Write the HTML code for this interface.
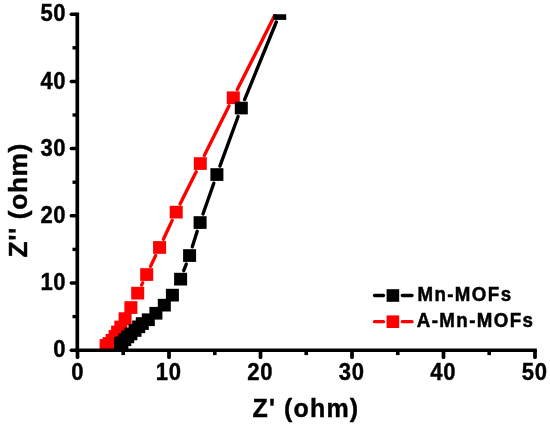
<!DOCTYPE html>
<html><head><meta charset="utf-8"><title>EIS Nyquist plot</title>
<style>html,body{margin:0;padding:0;background:#fff}body{width:550px;height:427px;overflow:hidden}</style></head>
<body>
<svg width="550" height="427" viewBox="0 0 550 427" style="display:block;font-family:'Liberation Sans',Arial,sans-serif;font-weight:bold">
<rect width="550" height="427" fill="#fff"/>
<defs><clipPath id="cp"><rect x="77.5" y="14.2" width="460" height="337"/></clipPath></defs>
<g clip-path="url(#cp)"><line x1="283.7" y1="-2.5" x2="237.3" y2="89.6" stroke="#fe0000" stroke-width="3.4" stroke-linecap="round"/>
<line x1="229.1" y1="105.8" x2="204.3" y2="155.4" stroke="#fe0000" stroke-width="3.4" stroke-linecap="round"/>
<line x1="196.2" y1="171.7" x2="180.1" y2="204.0" stroke="#fe0000" stroke-width="3.4" stroke-linecap="round"/>
<line x1="172.2" y1="220.4" x2="163.4" y2="239.2" stroke="#fe0000" stroke-width="3.4" stroke-linecap="round"/>
<line x1="155.6" y1="255.6" x2="150.6" y2="266.4" stroke="#fe0000" stroke-width="3.4" stroke-linecap="round"/>
<line x1="142.7" y1="282.8" x2="141.6" y2="285.0" stroke="#fe0000" stroke-width="3.4" stroke-linecap="round"/>
<rect x="281.3" y="-16.9" width="13.0" height="12.7" fill="#fe0000"/>
<rect x="226.8" y="91.4" width="13.0" height="12.7" fill="#fe0000"/>
<rect x="193.8" y="157.2" width="13.0" height="12.7" fill="#fe0000"/>
<rect x="169.7" y="205.8" width="13.0" height="12.7" fill="#fe0000"/>
<rect x="153.1" y="241.1" width="13.0" height="12.7" fill="#fe0000"/>
<rect x="140.2" y="268.2" width="13.0" height="12.7" fill="#fe0000"/>
<rect x="131.2" y="286.8" width="13.0" height="12.7" fill="#fe0000"/>
<rect x="124.4" y="301.2" width="13.0" height="12.7" fill="#fe0000"/>
<rect x="118.6" y="312.3" width="13.0" height="12.7" fill="#fe0000"/>
<rect x="114.3" y="320.6" width="13.0" height="12.7" fill="#fe0000"/>
<rect x="111.1" y="325.6" width="13.0" height="12.7" fill="#fe0000"/>
<rect x="108.6" y="330.1" width="13.0" height="12.7" fill="#fe0000"/>
<rect x="105.6" y="334.0" width="13.0" height="12.7" fill="#fe0000"/>
<rect x="102.6" y="337.1" width="13.0" height="12.7" fill="#fe0000"/>
<rect x="99.6" y="339.1" width="13.0" height="12.7" fill="#fe0000"/></g>
<g clip-path="url(#cp)"><line x1="276.3" y1="22.0" x2="244.6" y2="99.6" stroke="#000" stroke-width="3.4" stroke-linecap="round"/>
<line x1="238.1" y1="116.5" x2="219.9" y2="166.1" stroke="#000" stroke-width="3.4" stroke-linecap="round"/>
<line x1="213.8" y1="183.2" x2="203.0" y2="214.0" stroke="#000" stroke-width="3.4" stroke-linecap="round"/>
<line x1="197.2" y1="231.3" x2="192.3" y2="246.8" stroke="#000" stroke-width="3.4" stroke-linecap="round"/>
<line x1="186.3" y1="264.0" x2="183.7" y2="270.7" stroke="#000" stroke-width="3.4" stroke-linecap="round"/>
<rect x="273.2" y="7.2" width="13.0" height="12.7" fill="#000"/>
<rect x="234.8" y="101.7" width="13.0" height="12.7" fill="#000"/>
<rect x="210.4" y="168.2" width="13.0" height="12.7" fill="#000"/>
<rect x="193.6" y="216.2" width="13.0" height="12.7" fill="#000"/>
<rect x="183.1" y="249.2" width="13.0" height="12.7" fill="#000"/>
<rect x="174.1" y="272.8" width="13.0" height="12.7" fill="#000"/>
<rect x="165.9" y="288.8" width="13.0" height="12.7" fill="#000"/>
<rect x="157.8" y="298.8" width="13.0" height="12.7" fill="#000"/>
<rect x="149.4" y="306.9" width="13.0" height="12.7" fill="#000"/>
<rect x="141.8" y="313.4" width="13.0" height="12.7" fill="#000"/>
<rect x="135.8" y="317.2" width="13.0" height="12.7" fill="#000"/>
<rect x="132.2" y="320.5" width="13.0" height="12.7" fill="#000"/>
<rect x="128.5" y="324.1" width="13.0" height="12.7" fill="#000"/>
<rect x="124.4" y="327.6" width="13.0" height="12.7" fill="#000"/>
<rect x="121.2" y="330.5" width="13.0" height="12.7" fill="#000"/>
<rect x="118.3" y="333.4" width="13.0" height="12.7" fill="#000"/>
<rect x="115.4" y="336.4" width="13.0" height="12.7" fill="#000"/>
<rect x="114.0" y="337.4" width="13.0" height="12.7" fill="#000"/></g>
<line x1="77.3" y1="12.4" x2="77.3" y2="352" stroke="#000" stroke-width="3.7"/>
<line x1="75.5" y1="350.2" x2="536.8" y2="350.2" stroke="#000" stroke-width="3.5"/>
<line x1="71.3" y1="350.2" x2="76" y2="350.2" stroke="#000" stroke-width="3.5" stroke-linecap="round"/>
<line x1="77.5" y1="351" x2="77.5" y2="357.2" stroke="#000" stroke-width="3.7" stroke-linecap="round"/>
<line x1="72.5" y1="316.6" x2="76" y2="316.6" stroke="#000" stroke-width="3.4"/>
<line x1="123.2" y1="351" x2="123.2" y2="355.1" stroke="#000" stroke-width="3.6"/>
<line x1="71.3" y1="283.0" x2="76" y2="283.0" stroke="#000" stroke-width="3.5" stroke-linecap="round"/>
<line x1="169.0" y1="351" x2="169.0" y2="357.2" stroke="#000" stroke-width="3.7" stroke-linecap="round"/>
<line x1="72.5" y1="249.4" x2="76" y2="249.4" stroke="#000" stroke-width="3.4"/>
<line x1="214.8" y1="351" x2="214.8" y2="355.1" stroke="#000" stroke-width="3.6"/>
<line x1="71.3" y1="215.8" x2="76" y2="215.8" stroke="#000" stroke-width="3.5" stroke-linecap="round"/>
<line x1="260.5" y1="351" x2="260.5" y2="357.2" stroke="#000" stroke-width="3.7" stroke-linecap="round"/>
<line x1="72.5" y1="182.2" x2="76" y2="182.2" stroke="#000" stroke-width="3.4"/>
<line x1="306.2" y1="351" x2="306.2" y2="355.1" stroke="#000" stroke-width="3.6"/>
<line x1="71.3" y1="148.6" x2="76" y2="148.6" stroke="#000" stroke-width="3.5" stroke-linecap="round"/>
<line x1="352.0" y1="351" x2="352.0" y2="357.2" stroke="#000" stroke-width="3.7" stroke-linecap="round"/>
<line x1="72.5" y1="115.0" x2="76" y2="115.0" stroke="#000" stroke-width="3.4"/>
<line x1="397.8" y1="351" x2="397.8" y2="355.1" stroke="#000" stroke-width="3.6"/>
<line x1="71.3" y1="81.4" x2="76" y2="81.4" stroke="#000" stroke-width="3.5" stroke-linecap="round"/>
<line x1="443.5" y1="351" x2="443.5" y2="357.2" stroke="#000" stroke-width="3.7" stroke-linecap="round"/>
<line x1="72.5" y1="47.8" x2="76" y2="47.8" stroke="#000" stroke-width="3.4"/>
<line x1="489.2" y1="351" x2="489.2" y2="355.1" stroke="#000" stroke-width="3.6"/>
<line x1="71.3" y1="14.2" x2="76" y2="14.2" stroke="#000" stroke-width="3.5" stroke-linecap="round"/>
<line x1="535.0" y1="351" x2="535.0" y2="357.2" stroke="#000" stroke-width="3.7" stroke-linecap="round"/>
<text transform="translate(66.16,357.4) scale(0.935,1)" font-size="23.6" letter-spacing="0.6" stroke="#000" stroke-width="0.4" text-anchor="end">0</text>
<text transform="translate(77.78,380) scale(0.935,1)" font-size="23.6" letter-spacing="0.6" stroke="#000" stroke-width="0.4" text-anchor="middle">0</text>
<text transform="translate(66.16,290.2) scale(0.935,1)" font-size="23.6" letter-spacing="0.6" stroke="#000" stroke-width="0.4" text-anchor="end">10</text>
<text transform="translate(168.68,380) scale(0.935,1)" font-size="23.6" letter-spacing="0.6" stroke="#000" stroke-width="0.4" text-anchor="middle">10</text>
<text transform="translate(66.16,223.0) scale(0.935,1)" font-size="23.6" letter-spacing="0.6" stroke="#000" stroke-width="0.4" text-anchor="end">20</text>
<text transform="translate(260.18,380) scale(0.935,1)" font-size="23.6" letter-spacing="0.6" stroke="#000" stroke-width="0.4" text-anchor="middle">20</text>
<text transform="translate(66.16,155.8) scale(0.935,1)" font-size="23.6" letter-spacing="0.6" stroke="#000" stroke-width="0.4" text-anchor="end">30</text>
<text transform="translate(351.68,380) scale(0.935,1)" font-size="23.6" letter-spacing="0.6" stroke="#000" stroke-width="0.4" text-anchor="middle">30</text>
<text transform="translate(66.16,88.6) scale(0.935,1)" font-size="23.6" letter-spacing="0.6" stroke="#000" stroke-width="0.4" text-anchor="end">40</text>
<text transform="translate(443.18,380) scale(0.935,1)" font-size="23.6" letter-spacing="0.6" stroke="#000" stroke-width="0.4" text-anchor="middle">40</text>
<text transform="translate(66.16,21.4) scale(0.935,1)" font-size="23.6" letter-spacing="0.6" stroke="#000" stroke-width="0.4" text-anchor="end">50</text>
<text transform="translate(534.68,380) scale(0.935,1)" font-size="23.6" letter-spacing="0.6" stroke="#000" stroke-width="0.4" text-anchor="middle">50</text>
<text transform="translate(305.9,416.9)" font-size="25" letter-spacing="1.15" stroke="#000" stroke-width="0.4" text-anchor="middle">Z' (ohm)</text>
<text transform="translate(27.4,200.3) rotate(-90) scale(1.05,1)" font-size="25" letter-spacing="0.6" stroke="#000" stroke-width="0.4" text-anchor="middle">Z'' (ohm)</text>
<line x1="374.5" y1="295.5" x2="383.5" y2="295.5" stroke="#000" stroke-width="3.3" stroke-linecap="round"/>
<line x1="402.3" y1="295.5" x2="412" y2="295.5" stroke="#000" stroke-width="3.3" stroke-linecap="round"/>
<rect x="386.6" y="289.2" width="12.6" height="12.6" fill="#000"/>
<text transform="translate(417.4,300.7) scale(0.97,1)" font-size="19.3" letter-spacing="1.45" fill="#000" stroke="#000" stroke-width="0.5">Mn-MOFs</text>
<line x1="374.5" y1="321.7" x2="383.5" y2="321.7" stroke="#fe0000" stroke-width="3.3" stroke-linecap="round"/>
<line x1="402.3" y1="321.7" x2="412" y2="321.7" stroke="#fe0000" stroke-width="3.3" stroke-linecap="round"/>
<rect x="386.6" y="315.4" width="12.6" height="12.6" fill="#fe0000"/>
<text transform="translate(416.8,326.9) scale(0.97,1)" font-size="19.3" letter-spacing="1.45" fill="#000" stroke="#000" stroke-width="0.5">A-Mn-MOFs</text>
</svg>
</body></html>
